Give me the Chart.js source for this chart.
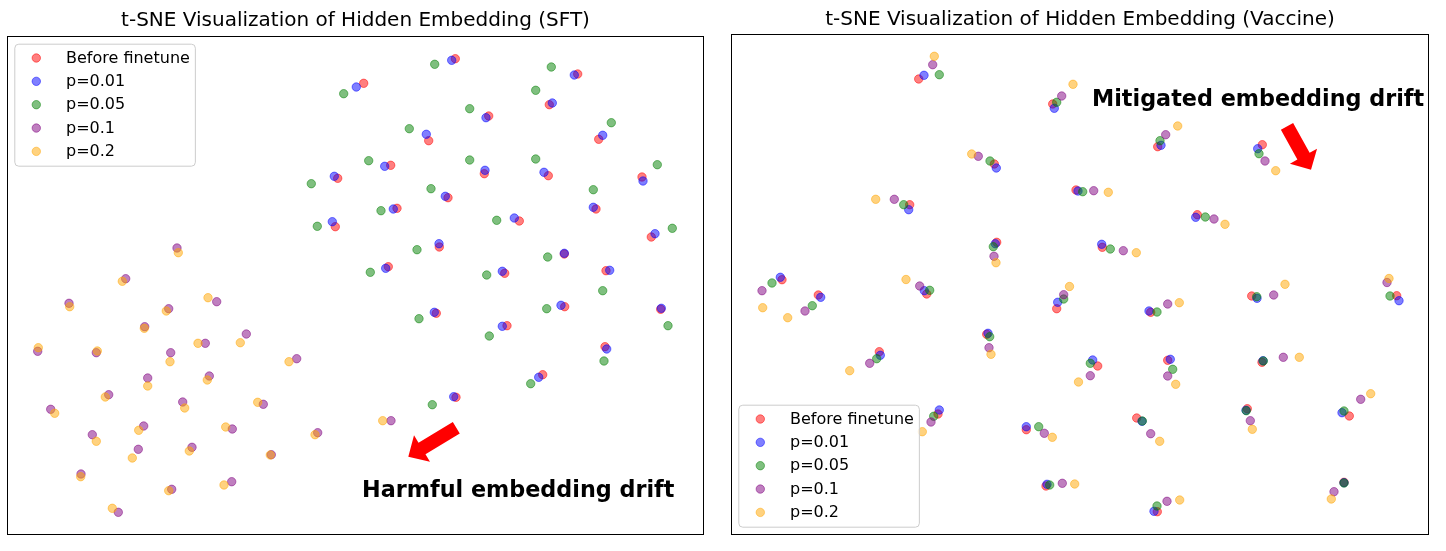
<!DOCTYPE html>
<html>
<head>
<meta charset="utf-8">
<script src="https://cdn.jsdelivr.net/npm/chart.js@4.4.1/dist/chart.umd.min.js"></script>
<style>
  html, body { margin: 0; padding: 0; background: #fff; }
  #wrap { position: relative; width: 1446px; height: 551px; }
  canvas { position: absolute; top: 0; }
  #graficoSft { left: 0; }
  #graficoVaccine { left: 718px; }
</style>
</head>
<body>
<div id="wrap">
  <canvas id="graficoSft" width="718" height="551"></canvas>
  <canvas id="graficoVaccine" width="728" height="551"></canvas>
</div>
<script>
const ROTULOS = ['Before finetune', 'p=0.01', 'p=0.05', 'p=0.1', 'p=0.2'];
const CORES = ['255,0,0', '0,0,255', '0,128,0', '128,0,128', '255,165,0'];

// --- SFT (t-SNE coordinates) ---
const sftBefore = [[455.3,58.7],[363.7,83.3],[577.7,74],[549.3,104.7],[488.7,116],[598.7,139.3],[337.7,178.3],[428.7,140.7],[390.7,165.3],[484.3,173.7],[548.3,175.7],[642,177],[448,197.7],[596,209],[335.3,226.7],[397,208.3],[519.3,221],[651.3,237],[439.3,247],[564.3,254],[388.3,266.7],[504.7,273.3],[606,270.7],[436.3,313.3],[564.7,306.7],[660.7,309.3],[507,325.7],[605,346.7],[542.7,374.7],[456,397.3]];
const sftP001 = [[451.7,60.3],[356.3,87],[574.3,75],[552.3,103],[486,117.7],[602.7,135.3],[334.3,176.3],[426.3,134.3],[384.7,166.3],[485,170.3],[544,172.3],[643,181],[445.3,196.3],[593.3,207.3],[332.3,221.7],[393.3,209],[514.3,218],[655,233.7],[439,243.7],[564.3,253.3],[385.7,268.3],[502.3,271.3],[609.7,270.3],[434.3,312.3],[561,305.3],[661.3,308.3],[502.3,326.3],[606.7,349],[538.7,377.3],[453.7,396.7]];
const sftP005 = [[343.7,93.7],[434.7,64.3],[551.3,67],[535.7,90.3],[469.7,108.7],[611.3,122.7],[311.3,183.7],[409.3,128.7],[368.7,160.7],[469.7,160],[535.7,159],[657.3,164.7],[431,188.7],[593.3,189.7],[317.3,226.3],[381,210.7],[496.7,220.3],[672.3,228.3],[417,249.7],[547.7,257],[370.3,272.3],[486.7,275],[602.7,290.7],[419,318.7],[546.7,308.7],[668,325.7],[489.3,336],[604,361],[530.7,383.7],[432.3,404.7]];
const sftP01 = [[177,248],[125.7,278.7],[69,303.3],[216.7,301.7],[168.7,308.7],[144.7,326.7],[246.3,334],[205.3,343.3],[37.7,351.3],[96.3,352.7],[170.7,352.7],[296.7,358.7],[147.7,378],[209.3,376],[108.7,394.7],[182.7,402],[263.3,404.3],[50.7,409.3],[143.7,426],[232.3,429],[317.7,432.7],[92.3,434.7],[138.3,449.3],[192,447.3],[271.3,454.7],[81,474],[231.7,481.7],[171.7,489.3],[118.3,512.3],[391,420.7]];
const sftP02 = [[178.3,252.7],[122.3,281.3],[69.7,306.7],[208,297.7],[166.3,311],[144.3,328.3],[240.3,342.7],[198,343.3],[38.3,347.7],[97.3,351],[170,361.7],[289,361.7],[147.7,386],[207.3,380],[105.3,397],[184.7,408],[257.7,402.3],[54.7,413.3],[138.7,430.3],[225.7,427],[315,434.7],[96.3,441.3],[132.3,458],[189.3,451],[270.3,455],[80.7,476.7],[224,485],[168.7,490.7],[112.3,508.3],[382.7,420.7]];

// --- Vaccine ---
const vacBefore = [[918.7,79],[1052.7,104],[994.3,164],[1076,190],[909.7,204.7],[996.7,242.3],[782,279.7],[818.3,295],[926.7,294],[1056.7,308.7],[1157.7,146.7],[1262.3,144.7],[1197.3,214.7],[1102.3,247.3],[1251.7,296],[1396.7,295.7],[1150.7,312.3],[986.7,334.3],[879.3,351.7],[1097.7,366],[1167.7,360.3],[1262,362.3],[938,414],[1026.3,429.7],[1046,486],[1136.7,418],[1247.3,408.7],[1349.3,416],[1344,482.3],[1157.3,511.7]];
const vacP001 = [[924,75.3],[1054.3,108.3],[996.3,168],[1078,191],[908.7,209.7],[995.3,243.7],[780.3,277.3],[820.7,297.3],[924.3,290.7],[1057.7,302.3],[1161,145.3],[1257.7,148.7],[1195.7,217.3],[1101.7,244.3],[1257,298.3],[1399,300.7],[1149,311],[988,333.3],[880.3,355.3],[1092.7,360],[1170.3,359.3],[1263,360.7],[939.3,410],[1026.3,426.7],[1047,484.3],[1142,421.3],[1246,410.3],[1342,412.7],[1344,482.7],[1154,511.3]];
const vacP005 = [[939.3,74.7],[1056.7,102.3],[990,161],[1082.7,191.7],[903.7,204.7],[993.3,246.7],[772,283],[812.3,305.7],[929.7,290.3],[1063.7,299],[1160,140.7],[1259,153.7],[1205.3,217],[1110.3,249],[1256.7,296.7],[1390,296],[1157,312],[989.7,336.7],[876.7,358.7],[1090.3,363.3],[1172.7,369.3],[1263.3,361],[933.7,416.3],[1038.7,426.7],[1049.7,485],[1142.3,421],[1246.3,410.7],[1344,411],[1344,483],[1157,506]];
const vacP01 = [[932.7,64.7],[1061.7,96],[978.3,156.3],[1093.7,190.7],[894.3,199.3],[994,256.3],[762,290.7],[805,311],[919.7,286],[1063.7,294.7],[1165.7,134.7],[1265,161],[1214,219],[1123.3,250.7],[1273.7,295],[1387,282.5],[1167.7,304],[989,347.7],[869.7,363.3],[1090.3,375.7],[1167.7,376],[1283.3,357.3],[931,422],[1044.3,433.3],[1062.3,483.3],[1150.7,433.7],[1250.3,420.7],[1360.7,399.3],[1334,491.7],[1167,501.3]];
const vacP02 = [[934.3,56.3],[1073,84.3],[971.7,154],[1108.3,192.3],[875.7,199.3],[996,262.7],[762.7,307.7],[787.7,317.7],[906,279.5],[1069.5,286.5],[1177.7,126],[1275.7,170.7],[1225,224.3],[1136.3,252.7],[1285,284.3],[1389,278.5],[1179.3,302.7],[991,354.3],[849.7,370.7],[1078.5,382],[1175.7,384.3],[1299.3,357.3],[922.3,431.7],[1052.3,437.3],[1074.7,484],[1159.7,441.3],[1252.3,429.3],[1370.7,393.7],[1331.3,499],[1179.7,500]];

function montaDatasets(series) {
    return series.map((pts, i) => ({
        label: ROTULOS[i],
        data: pts.map(p => ({ x: p[0], y: p[1] })),
        backgroundColor: 'rgba(' + CORES[i] + ',0.5)',
        borderColor: 'rgba(' + CORES[i] + ',0.5)',
        pointRadius: 4.2,
        pointHoverRadius: 4.2,
        pointBorderWidth: 1,
        order: series.length - i // matplotlib draws later series on top
    }));
}

function caminhoArredondado(ctx, x, y, w, h, r) {
    ctx.beginPath();
    ctx.moveTo(x + r, y);
    ctx.arcTo(x + w, y, x + w, y + h, r);
    ctx.arcTo(x + w, y + h, x, y + h, r);
    ctx.arcTo(x, y + h, x, y, r);
    ctx.arcTo(x, y, x + w, y, r);
    ctx.closePath();
}

// frame, arrow, annotation text and the boxed legend
const decoracao = {
    id: 'decoracao',
    afterDatasetsDraw(chart) {
        const { ctx, chartArea: a } = chart;
        ctx.save();
        ctx.strokeStyle = '#000';
        ctx.lineWidth = 1;
        ctx.strokeRect(a.left + 0.5, a.top + 0.5, a.right - a.left - 1, a.bottom - a.top - 1);
        ctx.restore();
    },
    afterDraw(chart, args, opts) {
        const { ctx, chartArea: a, scales } = chart;
        const px = v => scales.x.getPixelForValue(v);
        const py = v => scales.y.getPixelForValue(v);
        ctx.save();

        // seta
        const s = opts.seta;
        const x0 = px(s.de[0]), y0 = py(s.de[1]), x1 = px(s.para[0]), y1 = py(s.para[1]);
        const len = Math.hypot(x1 - x0, y1 - y0);
        const ux = (x1 - x0) / len, uy = (y1 - y0) / len;
        const nx = -uy, ny = ux;
        const bx = x1 - ux * s.cabeca, by = y1 - uy * s.cabeca;
        const w = s.largura / 2, hw = s.larguraCabeca / 2;
        ctx.fillStyle = '#ff0000';
        ctx.beginPath();
        ctx.moveTo(x0 + nx * w, y0 + ny * w);
        ctx.lineTo(bx + nx * w, by + ny * w);
        ctx.lineTo(bx + nx * hw, by + ny * hw);
        ctx.lineTo(x1, y1);
        ctx.lineTo(bx - nx * hw, by - ny * hw);
        ctx.lineTo(bx - nx * w, by - ny * w);
        ctx.lineTo(x0 - nx * w, y0 - ny * w);
        ctx.closePath();
        ctx.fill();

        // texto
        ctx.fillStyle = '#000';
        ctx.font = 'bold 22.3px "DejaVu Sans"';
        ctx.textAlign = 'left';
        ctx.textBaseline = 'alphabetic';
        ctx.fillText(opts.texto.valor, px(opts.texto.pos[0]), py(opts.texto.pos[1]));

        // legenda
        ctx.font = '16px "DejaVu Sans"';
        const datasets = chart.data.datasets;
        const maxW = Math.max(...datasets.map(d => ctx.measureText(d.label).width));
        const lw = 51.7 + maxW + 5, lh = 122;
        const lx = a.left + 7.3;
        const ly = opts.legenda === 'topo' ? a.top + 7.7 : a.bottom - 8.3 - lh;
        caminhoArredondado(ctx, lx + 0.5, ly + 0.5, lw, lh, 4);
        ctx.fillStyle = 'rgba(255,255,255,0.8)';
        ctx.fill();
        ctx.strokeStyle = '#cccccc';
        ctx.lineWidth = 1;
        ctx.stroke();
        ctx.textBaseline = 'middle';
        datasets.forEach((d, i) => {
            const cy = ly + 14.3 + i * 23.35;
            ctx.beginPath();
            ctx.arc(lx + 22, cy, 4.2, 0, Math.PI * 2);
            ctx.fillStyle = d.backgroundColor;
            ctx.fill();
            ctx.strokeStyle = d.borderColor;
            ctx.stroke();
            ctx.fillStyle = '#000';
            ctx.fillText(d.label, lx + 51.7, cy + 0.5);
        });
        ctx.restore();
    }
};

function criaGrafico(id, titulo, series, limites, padding, tituloPad, extras) {
    return new Chart(document.getElementById(id).getContext('2d'), {
        type: 'scatter',
        data: { datasets: montaDatasets(series) },
        options: {
            responsive: false,
            animation: false,
            events: [],
            layout: { padding: padding },
            scales: {
                x: { type: 'linear', display: false, min: limites.x[0], max: limites.x[1] },
                y: { type: 'linear', display: false, reverse: true, min: limites.y[0], max: limites.y[1] }
            },
            plugins: {
                legend: { display: false },
                tooltip: { enabled: false },
                title: {
                    display: true,
                    text: titulo,
                    color: '#000',
                    font: { family: 'DejaVu Sans', size: 20, weight: 'normal', lineHeight: 1.2 },
                    padding: tituloPad
                },
                decoracao: extras
            }
        },
        plugins: [decoracao]
    });
}

criaGrafico('graficoSft', 't-SNE Visualization of Hidden Embedding (SFT)',
    [sftBefore, sftP001, sftP005, sftP01, sftP02],
    { x: [7, 704], y: [36, 535] },
    { left: 7, right: 14, top: 0, bottom: 16 },
    { top: 9, bottom: 3 },
    {
        legenda: 'topo',
        seta: { de: [456.3, 427.8], para: [408.3, 456.7], largura: 13.5, larguraCabeca: 31, cabeca: 16 },
        texto: { valor: 'Harmful embedding drift', pos: [362, 496.7] }
    });

criaGrafico('graficoVaccine', 't-SNE Visualization of Hidden Embedding (Vaccine)',
    [vacBefore, vacP001, vacP005, vacP01, vacP02],
    { x: [731, 1429], y: [34, 535] },
    { left: 13, right: 17, top: 0, bottom: 16 },
    { top: 8, bottom: 2 },
    {
        legenda: 'base',
        seta: { de: [1287, 126.3], para: [1311, 169.7], largura: 14, larguraCabeca: 31, cabeca: 15.5 },
        texto: { valor: 'Mitigated embedding drift', pos: [1092, 105.7] }
    });
</script>
</body>
</html>
